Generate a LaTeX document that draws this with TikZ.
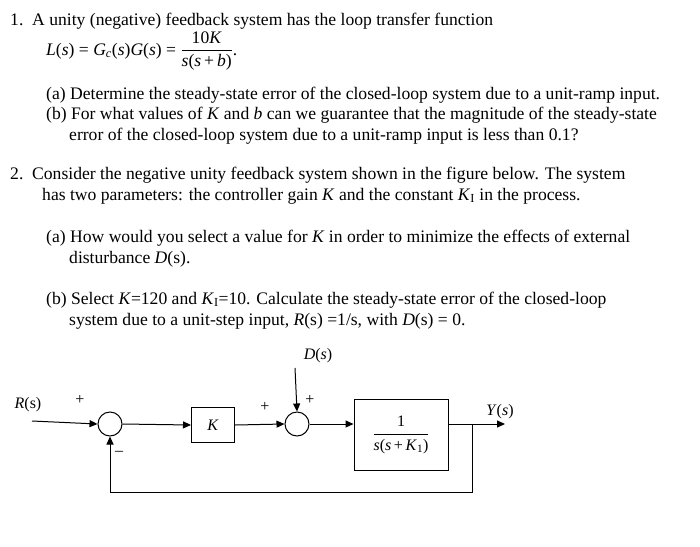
\documentclass[tikz,border=0pt]{standalone}
\usepackage{amsmath}
\usepackage{fontspec}
\setmainfont{Liberation Serif}
\usetikzlibrary{arrows.meta}
\newcommand{\ii}[1]{\textit{#1}}
\begin{document}
\begin{tikzpicture}[x=1pt,y=-1pt,
  txt/.style={anchor=base west,inner sep=0pt,font=\fontsize{17.6}{20}\selectfont},
  blk/.style={draw,line width=1pt,inner sep=0pt},
  sumc/.style={draw,circle,minimum size=24pt,inner sep=0pt,line width=1pt},
  sig/.style={line width=1pt,-{Triangle[length=8pt,width=7pt]}},
  wire/.style={line width=1pt},
  lab/.style={inner sep=0pt,font=\fontsize{16}{18}\selectfont}]
\useasboundingbox (0,0) rectangle (700,546);
\node[txt] (l1) at (10,25) {1.\ \ A unity (negative) feedback system has the loop transfer function};
\node[txt] (f) at (46,55) {\ii{L}(\ii{s}) = \ii{G}\textsubscript{\ii{c}}(\ii{s})\ii{G}(\ii{s}) = $\dfrac{\text{10\ii{K}}}{\text{\ii{s}(\ii{s}\,+\,\ii{b})}}$.};
\node[txt] (a1) at (46,99) {(a) Determine the steady-state error of the closed-loop system due to a unit-ramp input.};
\node[txt] (b1) at (46,119) {(b) For what values of \ii{K} and \ii{b} can we guarantee that the magnitude of the steady-state};
\node[txt] (b1c) at (69,140) {error of the closed-loop system due to a unit-ramp input is less than 0.1?};
\node[txt] (l2) at (10,179) {2.\ \ Consider the negative unity feedback system shown in the figure below. The system};
\node[txt] (l2c) at (42,200) {has two parameters: the controller gain \ii{K} and the constant \ii{K}\textsubscript{I} in the process.};
\node[txt] (a2) at (46,242) {(a) How would you select a value for \ii{K} in order to minimize the effects of external};
\node[txt] (a2c) at (69,263) {disturbance \ii{D}(s).};
\node[txt] (b2) at (46,304) {(b) Select \ii{K}=120 and \ii{K}\textsubscript{I}=10. Calculate the steady-state error of the closed-loop};
\node[txt] (b2c) at (69,325) {system due to a unit-step input, \ii{R}(s) =1/s, with \ii{D}(s) = 0.};
% block diagram
\node[sumc] (s1) at (110,424) {};
\node[blk,minimum width=43pt,minimum height=35pt] (k) at (213,425) {\fontsize{16}{18}\selectfont\ii{K}};
\node[sumc] (s2) at (297,424) {};
\node[blk,minimum width=94pt,minimum height=71pt] (p) at (401,435) {\fontsize{16}{18}\selectfont$\dfrac{\text{1}}{\text{\ii{s}(\ii{s}\,+\,\ii{K}\textsubscript{1})}}$};
\coordinate (rin) at (32,421);
\coordinate (br) at (472,424);
\coordinate (yout) at (505,424);
\coordinate (fb) at (472,492);
\coordinate (fb2) at (110,492);
\coordinate (dtop) at (295,368);
\node[lab] (R) at (28,405) {\ii{R}(s)};
\node[lab] (Y) at (500,412) {\ii{Y}(\ii{s})};
\node[lab] (D) at (318,356) {\ii{D}(\ii{s})};
\node[lab] at (80,400) {+};
\node[lab] at (265,407) {+};
\node[lab] at (310,400) {+};
\node[lab] at (119,453) {--};
\draw[sig] (rin) -- (s1.west);
\draw[sig] (s1.east) -- (k.west);
\draw[sig] (k.east) -- (s2.west);
\draw[sig] (dtop) -- (s2.north);
\draw[sig] (s2.east) -- (p.west |- s2.east);
\draw[wire] (p.east |- br) -- (br);
\draw[sig] (br) -- (yout);
\draw[sig] (br) -- (fb) -- (fb2) -- (s1.south);
\end{tikzpicture}
\end{document}
